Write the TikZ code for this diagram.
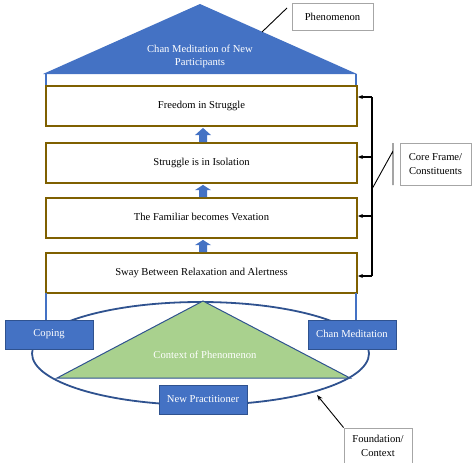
\documentclass[tikz,border=0pt]{standalone}
\usepackage{fontspec}
\setmainfont{Liberation Serif}
\usetikzlibrary{arrows.meta,calc}
\definecolor{blu}{HTML}{4472C4}
\definecolor{dblu}{HTML}{2F528F}
\definecolor{gold}{HTML}{7F6000}
\definecolor{grn}{HTML}{A9D18E}
\definecolor{gry}{HTML}{A6A6A6}
\begin{document}
\begin{tikzpicture}[x=1pt,y=-1pt,
  txt/.style={font=\fontsize{10.6}{13.5}\selectfont},
  layerbox/.style={txt,draw=gold,line width=1.8pt,minimum width=311pt,minimum height=40pt,inner sep=0pt,fill=white},
  bluebox/.style={txt,draw=dblu,fill=blu,line width=0.8pt,minimum width=88pt,minimum height=29pt,text=white,inner sep=0pt},
  notebox/.style={txt,draw=gry,line width=0.8pt,fill=white,align=center,inner sep=0pt},
  blk/.style={black,line width=1.3pt},
  arr/.style={blk,-{Stealth[length=5pt,width=4pt]}}
]
\useasboundingbox (0,0) rectangle (474,463);
% roof
\fill[blu] (43,74) -- (200,4) -- (357,74) -- cycle;
\node[txt,text=white,align=center] (roof) at (200,56.5) {Chan Meditation of New\\Participants};
\draw[blu,line width=1.8pt] (46,74) -- (46,86) (356,74) -- (356,86);
% phenomenon
\node[notebox,minimum width=81pt,minimum height=27pt] (phen) at (332.5,16.5) {Phenomenon};
\coordinate (ph1) at (287,8);
\coordinate (ph2) at (262,32);
\draw[black,line width=0.9pt] (ph1) -- (ph2);
% layers
\node[layerbox] (b1) at (201.5,106) {\raisebox{3pt}{Freedom in Struggle}};
\node[layerbox] (b2) at (201.5,163) {\raisebox{3pt}{Struggle is in Isolation}};
\node[layerbox] (b3) at (201.5,218) {\raisebox{3pt}{The Familiar becomes Vexation}};
\node[layerbox] (b4) at (201.5,273) {\raisebox{3pt}{Sway Between Relaxation and Alertness}};
% up arrows
\foreach \lo/\hi in {b2/b1,b3/b2,b4/b3}{
  \fill[blu] ($(\lo.north)+(-2.5,0)$) -- ($(\lo.north)+(-2.5,-7)$) -- ($(\lo.north)+(-6.5,-7)$)
    -- ($(\hi.south)+(1.5,1)$) -- ($(\lo.north)+(9.5,-7)$) -- ($(\lo.north)+(5.5,-7)$)
    -- ($(\lo.north)+(5.5,0)$) -- cycle;
}
% bracket
\coordinate (s1) at (372,97);
\coordinate (s2) at (372,157);
\coordinate (s3) at (372,216);
\coordinate (s4) at (372,276);
\draw[blk] (s1) -- (s4);
\draw[arr] (s1) -- (s1 -| b1.east);
\draw[arr] (s2) -- (s2 -| b2.east);
\draw[arr] (s3) -- (s3 -| b3.east);
\draw[arr] (s4) -- (s4 -| b4.east);
\node[notebox,minimum width=71pt,minimum height=42pt] (core) at (435.5,164) {Core Frame/\\Constituents};
\coordinate (c1) at (393,143);
\coordinate (c2) at (393,185);
\coordinate (c3) at (393,151);
\coordinate (c4) at (372,189);
\draw[black,line width=0.9pt] (c1) -- (c2) (c3) -- (c4);
% foundation
\draw[blu,line width=1.8pt] (46,293) -- (46,320) (356,293) -- (356,320);
\draw[dblu,line width=1.8pt] (200.5,353.5) ellipse [x radius=168.5,y radius=51.5];
\draw[dblu,line width=1pt,fill=grn] (203,301) -- (350,378) -- (57,378) -- cycle;
\node[txt,text=white] (ctx) at (205,355) {Context of Phenomenon};
\node[bluebox] (cop) at (49,334.5) {\raisebox{2pt}{Coping}};
\node[bluebox] (chan) at (352,334.5) {\raisebox{2pt}{Chan Meditation}};
\node[bluebox] (newp) at (203,399.5) {\raisebox{2pt}{New Practitioner}};
\node[notebox,minimum width=68pt,minimum height=36pt] (found) at (378,446) {Foundation/\\Context};
\coordinate (el) at (317,395);
\draw[black,line width=0.9pt,-{Stealth[length=6pt,width=4.5pt]}] (found.north west) -- (el);
\end{tikzpicture}
\end{document}
